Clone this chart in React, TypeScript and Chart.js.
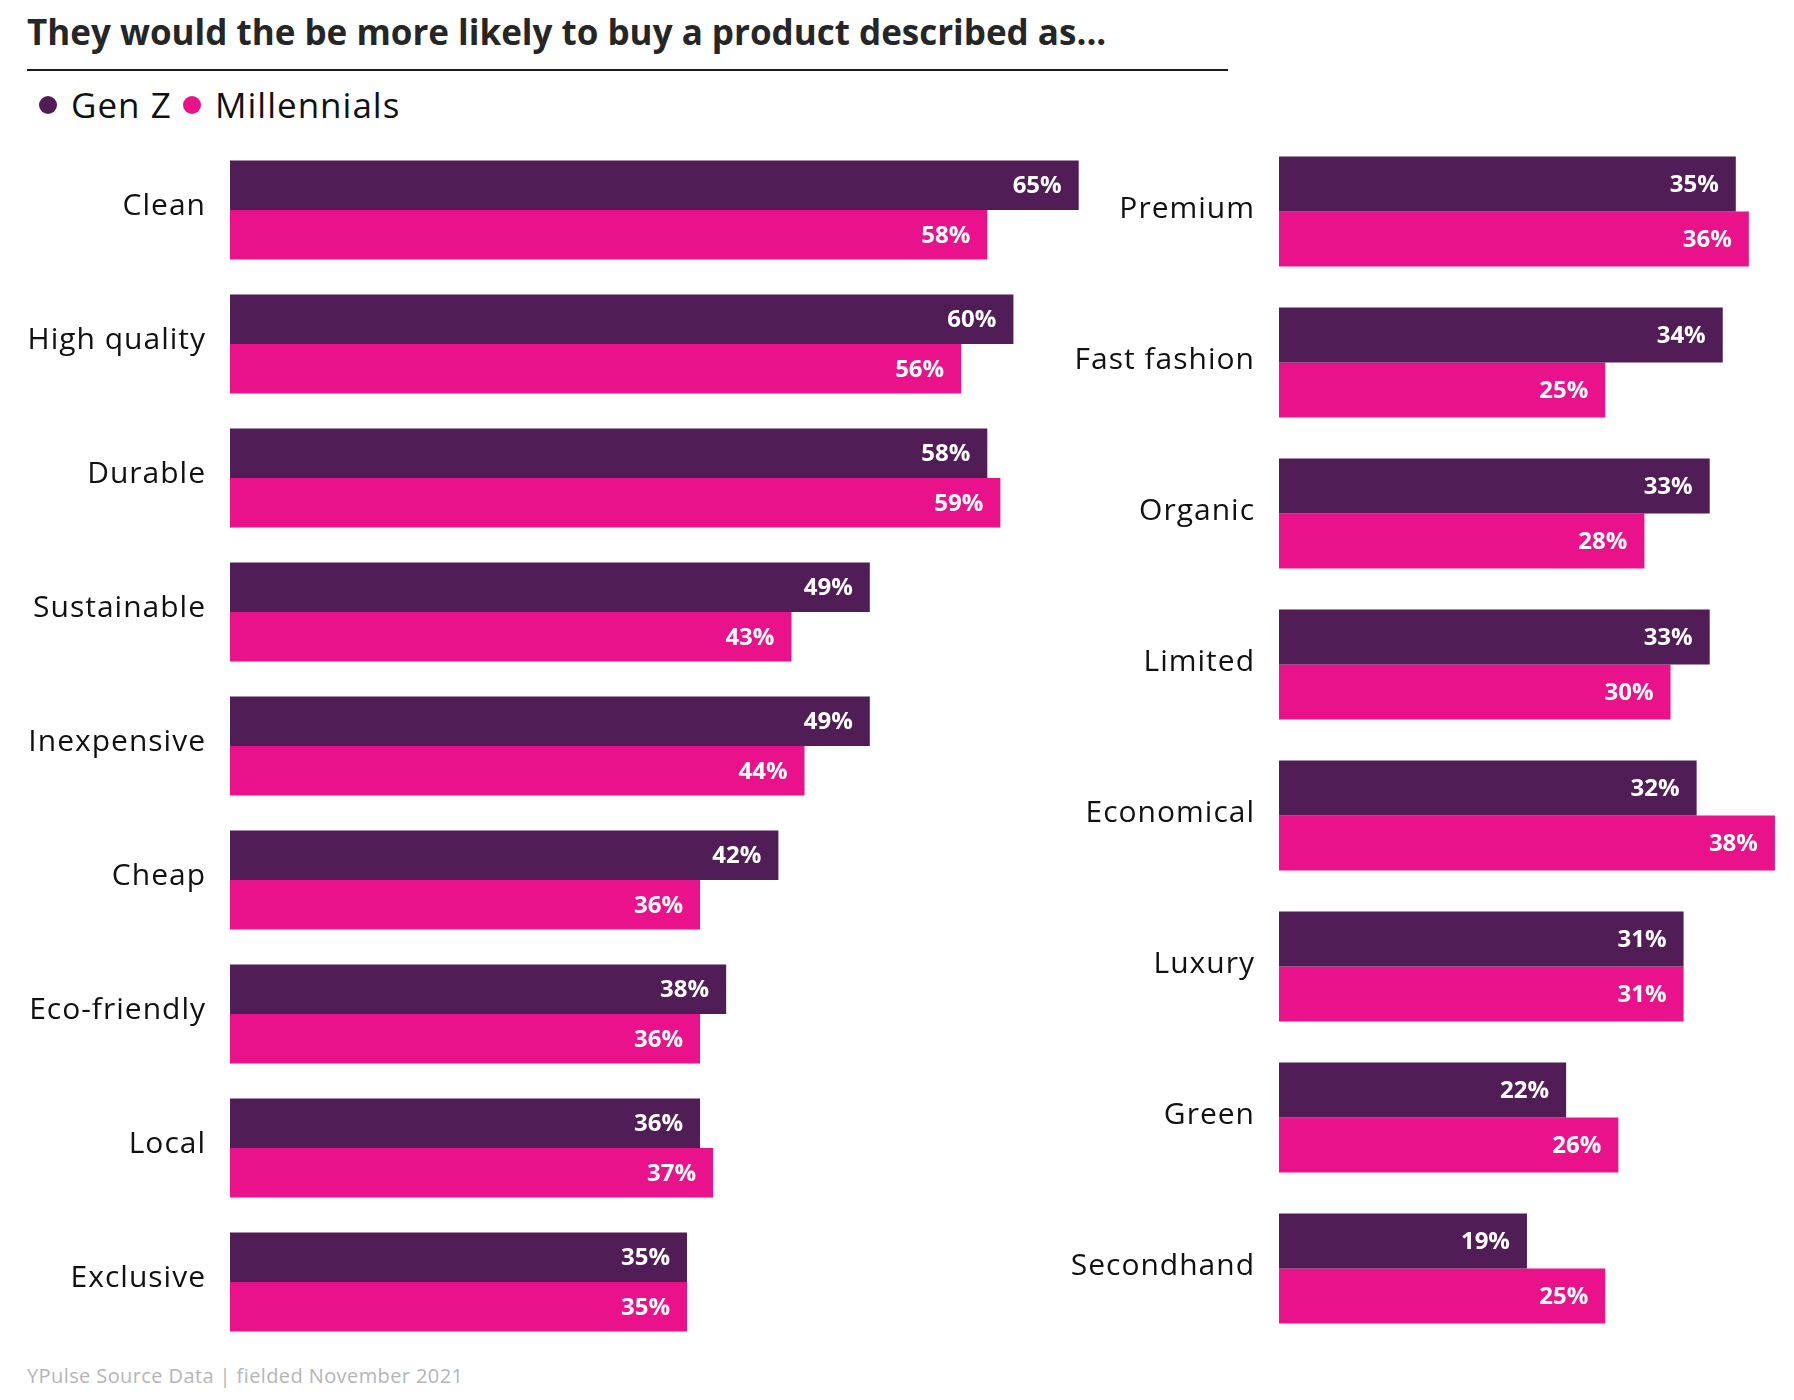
import React, { useEffect, useRef } from "react";
import { Chart, registerables } from "chart.js";

Chart.register(...registerables);

const leftCategories = ["Clean", "High quality", "Durable", "Sustainable", "Inexpensive", "Cheap", "Eco-friendly", "Local", "Exclusive"];
const leftGenZ = [65, 60, 58, 49, 49, 42, 38, 36, 35];
const leftMillennials = [58, 56, 59, 43, 44, 36, 36, 37, 35];

const rightCategories = ["Premium", "Fast fashion", "Organic", "Limited", "Economical", "Luxury", "Green", "Secondhand"];
const rightGenZ = [35, 34, 33, 33, 32, 31, 22, 19];
const rightMillennials = [36, 25, 28, 30, 38, 31, 26, 25];

const seriesNames = ["Gen Z", "Millennials"];
const GENZ_COLOR = "#511D56";
const MILL_COLOR = "#EA128A";
const PX_PER_PCT = 13.06;

const letterSpacingPlugin = {
  id: "letterSpacing",
  beforeDraw(chart: any) {
    (chart.ctx as any).letterSpacing = "1px";
  },
};

const valueLabelPlugin = {
  id: "valueLabels",
  afterDatasetsDraw(chart: any) {
    const ctx = chart.ctx;
    ctx.save();
    (ctx as any).letterSpacing = "0px";
    ctx.fillStyle = "#ffffff";
    ctx.font = "bold 24px 'Open Sans'";
    ctx.textAlign = "right";
    ctx.textBaseline = "middle";
    chart.data.datasets.forEach((ds: any, di: number) => {
      const meta = chart.getDatasetMeta(di);
      meta.data.forEach((bar: any, i: number) => {
        ctx.fillText(`${ds.data[i]}%`, bar.x - 17, bar.y + 1);
      });
    });
    ctx.restore();
  },
};

function BarPanel(props: {
  categories: string[];
  genz: number[];
  mill: number[];
  left: number;
  top: number;
  axisWidth: number;
  pitch: number;
  catPct: number;
  max: number;
  labelOffset: number;
}) {
  const ref = useRef<HTMLCanvasElement>(null);
  const width = Math.round(props.axisWidth + props.max * PX_PER_PCT);
  const height = Math.round(props.pitch * props.categories.length);
  useEffect(() => {
    if (!ref.current) return;
    const chart = new Chart(ref.current, {
      type: "bar",
      data: {
        labels: props.categories,
        datasets: [
          { label: seriesNames[0], data: props.genz, backgroundColor: GENZ_COLOR, borderWidth: 0, categoryPercentage: props.catPct, barPercentage: 1 },
          { label: seriesNames[1], data: props.mill, backgroundColor: MILL_COLOR, borderWidth: 0, categoryPercentage: props.catPct, barPercentage: 1 },
        ],
      },
      options: {
        indexAxis: "y",
        animation: false,
        responsive: false,
        maintainAspectRatio: false,
        layout: { padding: 0, autoPadding: false },
        plugins: { legend: { display: false }, tooltip: { enabled: false }, title: { display: false } },
        scales: {
          x: { display: false, min: 0, max: props.max },
          y: {
            grid: { display: false, drawTicks: false },
            border: { display: false },
            ticks: { color: "#111111", font: { family: "'Open Sans'", size: 30 }, padding: 24, labelOffset: props.labelOffset },
            afterFit: (scale: any) => {
              scale.width = props.axisWidth;
              scale.paddingTop = 0;
              scale.paddingBottom = 0;
            },
          },
        },
      } as any,
      plugins: [letterSpacingPlugin, valueLabelPlugin],
    });
    return () => chart.destroy();
  }, []);
  return (
    <canvas
      ref={ref}
      width={width}
      height={height}
      style={{ position: "absolute", left: props.left, top: props.top, width, height }}
    />
  );
}

export default function App() {
  return (
    <div style={{ position: "absolute", left: 0, top: 0, width: 1794, height: 1400, overflow: "hidden", background: "#ffffff", fontFamily: "'Open Sans'" }}>
      <div style={{ position: "absolute", left: 27, top: 13, fontSize: 35, lineHeight: "38px", fontWeight: 700, color: "#262626", whiteSpace: "nowrap" }}>
        They would the be more likely to buy a product described as...
      </div>
      <div style={{ position: "absolute", left: 27, top: 69, width: 1201, height: 2, background: "#1a1a1a" }} />
      <div style={{ position: "absolute", left: 39, top: 96, width: 18, height: 18, borderRadius: 9, background: GENZ_COLOR }} />
      <div style={{ position: "absolute", left: 71, top: 86, fontSize: 35, lineHeight: "38px", letterSpacing: "1px", color: "#111111", whiteSpace: "nowrap" }}>{seriesNames[0]}</div>
      <div style={{ position: "absolute", left: 183, top: 96, width: 18, height: 18, borderRadius: 9, background: MILL_COLOR }} />
      <div style={{ position: "absolute", left: 215, top: 86, fontSize: 35, lineHeight: "38px", letterSpacing: "1px", color: "#111111", whiteSpace: "nowrap" }}>{seriesNames[1]}</div>
      <BarPanel categories={leftCategories} genz={leftGenZ} mill={leftMillennials} left={0} top={142.5} axisWidth={230} pitch={134} catPct={0.739} max={70} labelOffset={-3.5} />
      <BarPanel categories={rightCategories} genz={rightGenZ} mill={rightMillennials} left={1019} top={135.5} axisWidth={260} pitch={151} catPct={0.728} max={39} labelOffset={-2.5} />
      <div style={{ position: "absolute", left: 27, top: 1364, fontSize: 20, lineHeight: "24px", letterSpacing: "0.4px", color: "#b5b5b5", whiteSpace: "nowrap" }}>
        YPulse Source Data | fielded November 2021
      </div>
    </div>
  );
}
